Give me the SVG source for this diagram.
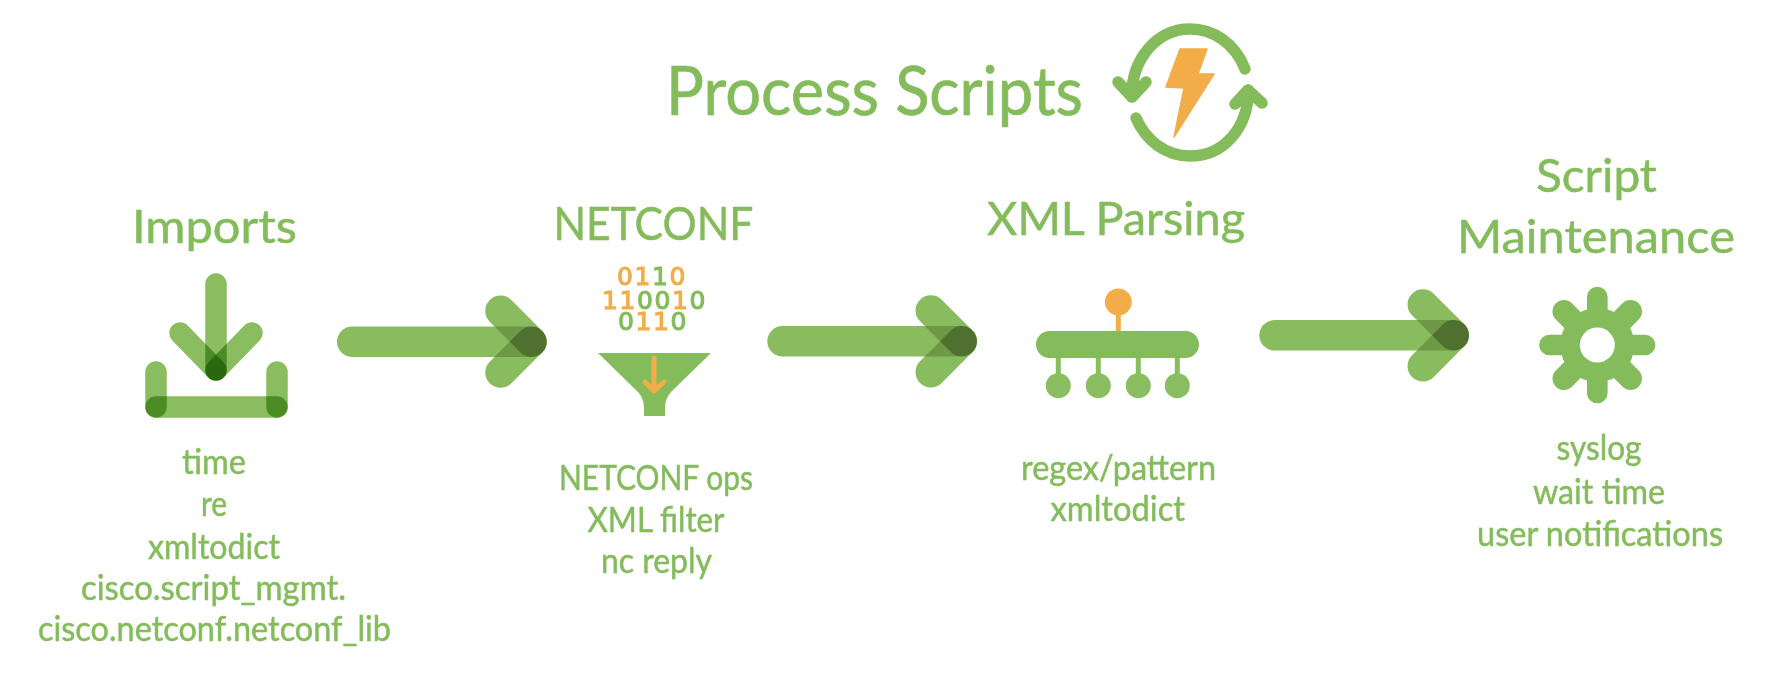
<svg xmlns="http://www.w3.org/2000/svg" width="1774" height="676" viewBox="0 0 1774 676">
<style>
text{font-family:"Lato","Carlito","Liberation Sans",sans-serif;fill:#84BC5C;stroke:#84BC5C;stroke-width:.5px}
.h{font-size:47px}
.t{font-size:68px;stroke-width:.7px}
.l{font-size:35px}
.b{font-family:"DejaVu Sans",sans-serif;font-size:25px;letter-spacing:1.6px;stroke-width:1.1px}
.o{fill:#F2AD48;stroke:#F2AD48}
.g{fill:#84BC5C;stroke:#84BC5C}
.imp{fill:none;stroke:#8ABD5F;stroke-width:21.5;stroke-linecap:round;mix-blend-mode:multiply}
.ln{fill:none;stroke:#84BC5C;stroke-linecap:round;stroke-linejoin:round}
.or{fill:none;stroke:#F2AD48;stroke-linecap:round;stroke-linejoin:round}
.n{fill:#8ABD5F}
.s{stroke:#8ABD5F;stroke-width:5}
.spoke{stroke:#84BC5C;stroke-width:20.7;stroke-linecap:round}
.diag{stroke-width:23}
</style>
<defs>
<rect id="sh" x="-209.7" y="-15.3" width="209.7" height="30.6" rx="15.3"/>
<rect id="a1" x="-74.2" y="-15.3" width="74.2" height="30.6" rx="15.3" transform="rotate(45 -15.3 0)"/>
<rect id="a2" x="-74.2" y="-15.3" width="74.2" height="30.6" rx="15.3" transform="rotate(-45 -15.3 0)"/>
<clipPath id="cs"><use href="#sh"/></clipPath>
<clipPath id="ca"><use href="#a1"/></clipPath>
<g id="arrow">
<g fill="#88BC5E"><use href="#sh"/><use href="#a1"/><use href="#a2"/></g>
<g clip-path="url(#cs)" fill="#1a2a00" fill-opacity=".25"><use href="#a1"/><use href="#a2"/></g>
<g clip-path="url(#ca)" fill="#000" fill-opacity=".1"><use href="#a2"/></g>
</g>
</defs>
<rect width="1774" height="676" fill="#fff"/>
<g id="title">
<text class="t" x="666" y="115" textLength="417" lengthAdjust="spacingAndGlyphs">Process Scripts</text>
<path class="ln" stroke-width="11.5" d="M1245 69C1235 43 1213 29 1190 29C1158 29 1132 57 1131.5 97M1118 82L1132 97L1146 82M1136 118C1146 141 1166 156 1190 156C1224 156 1248 128 1248.5 90M1235 104L1248 90L1262 103"/>
<path fill="#F2AD48" stroke="#F2AD48" stroke-width="1.5" stroke-linejoin="round" d="M1180 49H1207L1198 74H1214L1174 137L1184 88L1166 87Z"/>
</g>
<g id="imports">
<text class="h" x="132" y="243" textLength="165" lengthAdjust="spacingAndGlyphs">Imports</text>
<path class="imp" d="M216 284V370"/>
<path class="imp" d="M180 333L216 370"/>
<path class="imp" d="M252 333L216 370"/>
<path class="imp" d="M156 372V407"/>
<path class="imp" d="M277 372V407"/>
<path class="imp" d="M156 407H277"/>
<text class="l" x="182" y="474" textLength="64" lengthAdjust="spacingAndGlyphs">time</text>
<text class="l" x="201" y="516" textLength="26" lengthAdjust="spacingAndGlyphs">re</text>
<text class="l" x="148" y="559" textLength="132" lengthAdjust="spacingAndGlyphs">xmltodict</text>
<text class="l" x="81" y="600" textLength="265" lengthAdjust="spacingAndGlyphs">cisco.script_mgmt.</text>
<text class="l" x="38" y="641" textLength="353" lengthAdjust="spacingAndGlyphs">cisco.netconf.netconf_lib</text>
</g>
<g id="netconf">
<text class="h" x="553.5" y="240" textLength="200" lengthAdjust="spacingAndGlyphs">NETCONF</text>
<text class="b"><tspan x="617" y="285"><tspan class="o">01</tspan><tspan class="g">1</tspan><tspan class="o">0</tspan></tspan><tspan x="602" y="309"><tspan class="o">11</tspan><tspan class="g">00</tspan><tspan class="o">1</tspan><tspan class="g">0</tspan></tspan><tspan x="618" y="330"><tspan class="g">0</tspan><tspan class="o">11</tspan><tspan class="g">0</tspan></tspan></text>
<path fill="#84BC5C" d="M598 353H711L671 392Q665 399 665 408V416H644V408Q644 399 638 392Z"/>
<path class="or" stroke-width="5" d="M654 358V391M645 382L654 391L664 382"/>
<text class="l" x="559" y="490" textLength="194" lengthAdjust="spacingAndGlyphs">NETCONF ops</text>
<text class="l" x="587.5" y="532" textLength="137" lengthAdjust="spacingAndGlyphs">XML filter</text>
<text class="l" x="601" y="573" textLength="111" lengthAdjust="spacingAndGlyphs">nc reply</text>
</g>
<g id="xml-parsing">
<text class="h" x="987" y="235" textLength="258" lengthAdjust="spacingAndGlyphs">XML Parsing</text>
<path stroke="#F2AD48" stroke-width="5" d="M1118.3 302V335"/>
<circle cx="1118.3" cy="302" r="13.5" fill="#F2AD48"/>
<path class="s" d="M1058.3 356V386M1098.3 356V386M1138.3 356V386M1177.3 356V386"/>
<rect x="1036" y="331" width="163" height="27" rx="13.5" fill="#84BC5C"/>
<circle class="n" cx="1058.3" cy="385.7" r="12.5"/>
<circle class="n" cx="1098.3" cy="385.7" r="12.5"/>
<circle class="n" cx="1138.3" cy="385.7" r="12.5"/>
<circle class="n" cx="1177.3" cy="385.7" r="12.5"/>
<text class="l" x="1021" y="480" textLength="195" lengthAdjust="spacingAndGlyphs">regex/pattern</text>
<text class="l" x="1050.5" y="521" textLength="134.5" lengthAdjust="spacingAndGlyphs">xmltodict</text>
</g>
<g id="script-maintenance">
<text class="h" x="1536" y="192" textLength="121" lengthAdjust="spacingAndGlyphs">Script</text>
<text class="h" x="1457" y="253" textLength="278" lengthAdjust="spacingAndGlyphs">Maintenance</text>
<path class="spoke" d="M1597.3 345V297M1597.3 345V393M1597.3 345H1549.5M1597.3 345H1645"/>
<path class="spoke diag" d="M1597.3 345L1564 311.5M1597.3 345L1630.5 311.5M1597.3 345L1564 378.5M1597.3 345L1630.5 378.5"/>
<circle cx="1597.3" cy="345" r="37" fill="#84BC5C"/>
<circle cx="1597.3" cy="345" r="17.5" fill="#fff"/>
<text class="l" x="1556.6" y="460" textLength="85" lengthAdjust="spacingAndGlyphs">syslog</text>
<text class="l" x="1533" y="504" textLength="132" lengthAdjust="spacingAndGlyphs">wait time</text>
<text class="l" x="1477" y="546" textLength="246" lengthAdjust="spacingAndGlyphs">user notifications</text>
</g>
<g id="connectors">
<use href="#arrow" transform="translate(546.7 341.7)"/>
<use href="#arrow" transform="translate(977 341.3)"/>
<use href="#arrow" transform="translate(1469 335.3)"/>
</g>
</svg>
